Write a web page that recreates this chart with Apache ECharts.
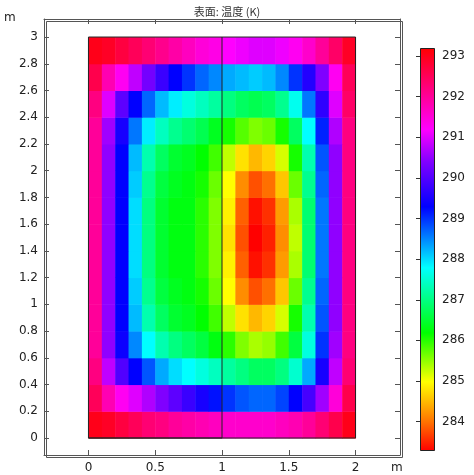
<!DOCTYPE html>
<html>
<head>
<meta charset="utf-8">
<script src="https://cdn.jsdelivr.net/npm/echarts@6/dist/echarts.min.js"></script>
<style>html,body{margin:0;padding:0;background:#fff}#main{width:474px;height:475px}</style>
</head>
<body>
<div id="main"></div>
<script>
// cell centres (m): 0.1 m wide, 0.2 m tall
var xCenters = [0.05, 0.15, 0.25, 0.35, 0.45, 0.55, 0.65, 0.75, 0.85, 0.95, 1.05, 1.15, 1.25, 1.35, 1.45, 1.55, 1.65, 1.75, 1.85, 1.95];
var yCenters = [0.1, 0.3, 0.5, 0.7, 0.9, 1.1, 1.3, 1.5, 1.7, 1.9, 2.1, 2.3, 2.5, 2.7, 2.9];
// temperature (K) per row, bottom to top
var temps = [
    [293.0, 292.9, 292.7, 292.5, 292.3, 292.2, 292.0, 291.9, 291.8, 291.7, 291.6, 291.6, 291.6, 291.6, 291.7, 291.8, 292.0, 292.3, 292.6, 293.0],
    [292.5, 291.8, 291.3, 291.0, 290.7, 290.4, 290.1, 289.8, 289.5, 289.2, 289.0, 288.8, 288.7, 288.7, 288.9, 289.3, 289.9, 290.6, 291.5, 292.6],
    [292.2, 290.8, 290.0, 289.3, 288.8, 288.3, 288.0, 287.8, 287.6, 287.4, 287.2, 287.0, 286.8, 286.8, 287.0, 287.5, 288.3, 289.5, 290.8, 292.3],
    [292.0, 290.5, 289.4, 288.5, 287.8, 287.3, 287.0, 286.8, 286.6, 286.3, 286.0, 285.6, 285.4, 285.5, 285.9, 286.6, 287.6, 289.0, 290.6, 292.2],
    [292.0, 290.5, 289.3, 288.2, 287.3, 286.8, 286.5, 286.4, 286.2, 285.9, 285.3, 284.8, 284.5, 284.7, 285.2, 286.1, 287.3, 288.8, 290.5, 292.2],
    [292.0, 290.5, 289.3, 288.1, 287.1, 286.6, 286.4, 286.3, 286.1, 285.7, 285.0, 284.2, 283.8, 284.0, 284.6, 285.7, 287.1, 288.7, 290.5, 292.2],
    [292.0, 290.5, 289.3, 288.0, 287.0, 286.5, 286.3, 286.3, 286.0, 285.6, 284.9, 283.9, 283.4, 283.6, 284.3, 285.4, 286.9, 288.6, 290.5, 292.2],
    [292.0, 290.5, 289.3, 288.0, 287.0, 286.5, 286.3, 286.3, 286.0, 285.6, 284.8, 283.8, 283.3, 283.5, 284.2, 285.3, 286.9, 288.6, 290.5, 292.2],
    [292.0, 290.5, 289.3, 288.0, 287.0, 286.5, 286.3, 286.3, 286.0, 285.6, 284.9, 283.9, 283.4, 283.6, 284.3, 285.4, 286.9, 288.6, 290.5, 292.2],
    [292.0, 290.5, 289.3, 288.1, 287.1, 286.6, 286.4, 286.3, 286.1, 285.7, 285.0, 284.2, 283.8, 284.0, 284.6, 285.7, 287.1, 288.7, 290.5, 292.2],
    [292.0, 290.5, 289.3, 288.2, 287.3, 286.8, 286.5, 286.4, 286.2, 285.9, 285.3, 284.8, 284.5, 284.7, 285.2, 286.1, 287.3, 288.8, 290.5, 292.2],
    [292.0, 290.6, 289.5, 288.6, 287.9, 287.4, 287.1, 286.9, 286.7, 286.4, 286.1, 285.8, 285.6, 285.7, 286.1, 286.8, 287.8, 289.1, 290.7, 292.2],
    [292.2, 291.0, 290.1, 289.3, 288.7, 288.2, 287.9, 287.6, 287.4, 287.2, 287.0, 286.8, 286.7, 286.8, 287.1, 287.7, 288.6, 289.7, 291.0, 292.4],
    [292.6, 291.8, 291.3, 290.8, 290.3, 289.8, 289.3, 289.0, 288.7, 288.5, 288.3, 288.2, 288.1, 288.2, 288.5, 289.0, 289.6, 290.4, 291.3, 292.5],
    [293.0, 292.9, 292.7, 292.5, 292.3, 292.1, 291.9, 291.7, 291.5, 291.4, 291.2, 291.1, 291.0, 291.0, 291.1, 291.3, 291.6, 292.0, 292.4, 292.9]
];
var xTicks = [0, 0.5, 1, 1.5, 2];
var yTicks = [0, 0.2, 0.4, 0.6, 0.8, 1, 1.2, 1.4, 1.6, 1.8, 2, 2.2, 2.4, 2.6, 2.8, 3];
var barTicks = [284, 285, 286, 287, 288, 289, 290, 291, 292, 293];
var tMin = 283.3, tMax = 293.2;
// colour table: temperature (K) and colour
var stopTemps = [283.3, 284.0, 285.0, 286.2, 287.8, 289.3, 290.4, 291.2, 293.2];
var stopColors = ['#ff0000', '#ff7000', '#ffff00', '#00ff00', '#00ffff', '#0000ff', '#8000ff', '#ff00ff', '#ff0000'];

function tempColor(t) {
    for (var k = 1; k < stopTemps.length; k++) {
        if (t <= stopTemps[k]) {
            var f = (t - stopTemps[k - 1]) / (stopTemps[k] - stopTemps[k - 1]);
            return echarts.color.lerp(Math.max(0, Math.min(1, f)), [stopColors[k - 1], stopColors[k]]);
        }
    }
    return stopColors[stopColors.length - 1];
}

var cells = [];
for (var j = 0; j < yCenters.length; j++) {
    for (var i = 0; i < xCenters.length; i++) {
        cells.push([xCenters[i], yCenters[j], temps[j][i]]);
    }
}

var txt = { color: '#222', fontSize: 12, fontFamily: 'DejaVu Sans' };
function frameAxis(extra) {
    return Object.assign({
        type: 'value',
        axisLine: { show: true, onZero: false, lineStyle: { color: '#555' } },
        splitLine: { show: false }
    }, extra);
}
function ticks(vals) {
    return { show: true, inside: true, length: 5, customValues: vals, lineStyle: { color: '#555' } };
}

var chart = echarts.init(document.getElementById('main'));
chart.setOption({
    animation: false,
    title: {
        text: '表面: 温度 (K)', left: 222, top: 1, textAlign: 'center',
        textStyle: { fontSize: 11, fontWeight: 'normal', color: '#333', fontFamily: 'Noto Sans CJK SC' }
    },
    grid: [
        { left: 44, right: 74, top: 19, bottom: 20 },
        { left: 420, width: 14, top: 48, height: 402 }
    ],
    xAxis: [
        frameAxis({ gridIndex: 0, min: -0.333, max: 2.333, position: 'bottom',
            axisTick: ticks(xTicks),
            axisLabel: Object.assign({ customValues: xTicks, margin: 7 }, txt) }),
        frameAxis({ gridIndex: 0, min: -0.333, max: 2.333, position: 'top',
            axisTick: ticks(xTicks), axisLabel: { show: false } }),
        { gridIndex: 1, type: 'value', min: 0, max: 1, show: false }
    ],
    yAxis: [
        frameAxis({ gridIndex: 0, min: -0.127, max: 3.135, position: 'left',
            axisTick: ticks(yTicks),
            axisLabel: Object.assign({ customValues: yTicks, margin: 6,
                formatter: function (v) { return String(+v.toFixed(1)); } }, txt) }),
        frameAxis({ gridIndex: 0, min: -0.127, max: 3.135, position: 'right',
            axisTick: ticks(yTicks), axisLabel: { show: false } }),
        { gridIndex: 1, type: 'value', min: tMin, max: tMax, position: 'right',
            splitLine: { show: false },
            axisLine: { show: false },
            axisTick: { show: true, inside: true, length: 4, customValues: barTicks, lineStyle: { color: '#333' } },
            axisLabel: Object.assign({ customValues: barTicks, margin: 8 }, txt) }
    ],
    graphic: [{
        type: 'rect', left: 420, top: 48, z: 0,
        shape: { width: 14, height: 402 },
        style: {
            stroke: '#222', lineWidth: 1,
            fill: new echarts.graphic.LinearGradient(0, 1, 0, 0, stopTemps.map(function (t, k) {
                return { offset: (t - tMin) / (tMax - tMin), color: stopColors[k] };
            }))
        }
    }, {
        // plot frame
        type: 'rect', left: 44, top: 19, z: 10, silent: true,
        shape: { width: 356, height: 436 },
        style: { fill: 'none', stroke: '#555', lineWidth: 1 }
    }, {
        type: 'text', left: 4, top: 12, style: { text: 'm', fill: '#222', fontSize: 12, fontFamily: 'DejaVu Sans' }
    }, {
        type: 'text', left: 391, top: 462, style: { text: 'm', fill: '#222', fontSize: 12, fontFamily: 'DejaVu Sans' }
    }],
    series: [{
        type: 'custom',
        xAxisIndex: 0, yAxisIndex: 0,
        data: cells,
        renderItem: function (params, api) {
            var p0 = api.coord([api.value(0) - 0.05, api.value(1) + 0.1]);
            var p1 = api.coord([api.value(0) + 0.05, api.value(1) - 0.1]);
            return {
                type: 'rect',
                shape: { x: p0[0], y: p0[1], width: p1[0] - p0[0] + 0.5, height: p1[1] - p0[1] + 0.5 },
                style: { fill: tempColor(api.value(2)) }
            };
        }
    }, {
        type: 'line', xAxisIndex: 0, yAxisIndex: 0, symbol: 'none', z: 5,
        lineStyle: { color: '#222', width: 1 },
        data: [[0, 0], [2, 0], [2, 3], [0, 3], [0, 0], [1, 0], [1, 3]]
    }]
});
</script>
</body>
</html>
